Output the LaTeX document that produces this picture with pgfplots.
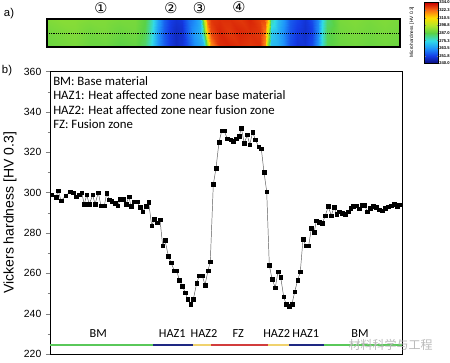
\documentclass[border=0pt]{standalone}
\usepackage{fontspec}
\setmainfont{Carlito}
\newfontfamily\arialfont{Liberation Sans}
\newfontfamily\symfont{DejaVu Sans}
\newfontfamily\cjk{Noto Sans CJK SC}
\usepackage{pgfplots}
\pgfplotsset{compat=1.18}
\definecolor{bmgreen}{RGB}{90,200,90}
\definecolor{hazblue}{RGB}{30,40,130}
\definecolor{hazyellow}{RGB}{240,210,110}
\definecolor{fzred}{RGB}{210,60,60}

\pgfplotstableread{
x y
1.7 298.9
6.0 297.7
8.3 300.9
11.0 295.9
15.7 298.4
20.3 300.5
23.3 300.0
26.0 298.0
29.3 298.9
31.7 300.0
34.3 294.2
36.7 298.9
39.3 294.2
42.7 298.9
45.0 294.2
48.3 300.0
51.0 293.4
54.3 293.4
56.7 299.7
59.3 296.4
61.7 295.6
65.0 294.7
67.7 293.4
70.3 296.7
73.3 296.7
76.0 294.2
79.0 298.0
81.0 293.1
84.3 295.4
87.3 295.4
90.0 292.6
92.7 290.6
96.0 293.1
98.7 295.1
101.7 283.5
104.3 286.8
107.3 285.1
110.0 286.5
112.7 273.6
115.0 276.5
118.3 268.6
121.0 265.3
124.3 261.3
126.7 261.3
129.3 256.7
132.3 253.7
135.3 250.4
137.7 247.1
140.7 244.8
143.3 247.1
146.7 255.1
149.3 258.8
152.3 258.8
155.0 254.2
158.0 261.3
160.3 265.8
163.3 304.0
166.0 312.1
169.0 325.0
171.7 330.6
174.3 330.6
177.3 326.6
180.7 326.2
183.3 325.3
186.0 326.6
189.3 327.8
191.3 332.0
194.3 324.5
197.3 328.6
199.7 323.7
202.7 330.0
205.3 326.2
208.7 322.8
211.3 321.7
214.0 310.1
216.7 300.5
219.3 264.1
222.0 257.2
225.3 252.9
228.0 260.8
230.7 258.0
233.7 248.4
236.0 244.8
239.3 243.8
242.0 244.8
244.7 250.9
247.7 256.7
250.3 260.8
253.0 276.8
256.0 273.7
258.7 273.6
261.3 282.3
264.3 280.4
266.3 286.1
269.3 285.3
272.3 284.8
275.3 288.6
278.3 293.1
281.3 288.6
284.0 292.8
286.7 289.4
289.3 290.6
292.3 289.8
295.0 289.4
298.0 290.6
300.7 292.3
303.3 293.1
306.0 293.4
309.0 291.9
311.7 293.9
314.5 293.8
317.3 290.6
320.0 292.3
323.0 293.1
326.0 292.8
329.0 291.4
332.0 291.1
335.0 292.3
338.0 292.9
341.0 293.4
344.0 294.1
347.0 293.1
349.5 293.9
}\hardness

\pgfplotstableread{
x y c
0 0 289
13 0 290
28 0 291
43 0 289
58 0 289
73 0 287
88 0 288
98 0 284
105 0 274
111 0 263
117 0 256
123 0 251
129 0 248
135 0 250
141 0 255
147 0 262
153 0 266
157 0 270
160 0 290
164 0 318
173 0 329
183 0 330
193 0 329
203 0 328
213 0 329
218 0 320
221 0 290
224 0 270
231 0 268
237 0 262
243 0 254
250 0 250
258 0 250
265 0 254
271 0 264
275 0 276
280 0 286
293 0 289
308 0 290
323 0 289
338 0 290
353 0 289
0 14 290
13 14 291
28 14 292
43 14 290
58 14 291
73 14 289
88 14 290
98 14 286
105 14 276
111 14 264
117 14 256
123 14 251
129 14 248
135 14 249
141 14 257
147 14 264
153 14 268
157 14 285
160 14 312
164 14 326
173 14 330
183 14 328
193 14 330
203 14 329
213 14 328
218 14 322
221 14 300
224 14 272
231 14 268
237 14 262
243 14 255
250 14 251
258 14 249
265 14 252
271 14 262
275 14 276
280 14 286
293 14 290
308 14 291
323 14 290
338 14 291
353 14 290
0 28 292
13 28 293
28 28 293
43 28 292
58 28 292
73 28 291
88 28 291
98 28 287
105 28 278
111 28 266
117 28 257
123 28 252
129 28 250
135 28 251
141 28 258
147 28 262
153 28 268
157 28 300
160 28 322
164 28 328
173 28 329
183 28 329
193 28 328
203 28 330
213 28 327
218 28 326
221 28 316
224 28 280
231 28 270
237 28 264
243 28 256
250 28 253
258 28 250
265 28 254
271 28 262
275 28 274
280 28 284
293 28 291
308 28 292
323 28 291
338 28 292
353 28 291
}\hmap

\begin{document}
\begin{tikzpicture}
\useasboundingbox (0,0) rectangle (337.5pt,271.5pt);

% ---- panel a) heat map strip ----
\begin{axis}[
  at={(35.25pt,236.25pt)}, anchor=south west,
  scale only axis, width=264.75pt, height=21pt,
  xmin=0, xmax=353, ymin=0, ymax=28,
  ticks=none, axis on top,
  axis line style={line width=1.1pt},
  colormap={origin}{rgb255(0cm)=(10,10,120); rgb255(1cm)=(20,60,230); rgb255(2cm)=(30,150,250); rgb255(3cm)=(50,220,230); rgb255(4cm)=(90,210,70); rgb255(5cm)=(180,230,40); rgb255(6cm)=(255,220,0); rgb255(7cm)=(250,110,20); rgb255(8cm)=(200,0,0)},
  point meta min=240, point meta max=334,
  colorbar,
  colorbar style={
    at={(parent axis.east)}, anchor=west, xshift=9.75pt,
    width=10.5pt, height=45.75pt,
    ytick={240,251.75,263.5,275.25,287,298.75,310.5,322.25,334},
    yticklabels={240.0,251.8,263.5,275.3,287.0,298.8,310.5,322.3,334.0},
    yticklabel style={font=\arialfont\bfseries\fontsize{3.1}{3.5}\selectfont, inner sep=0.5pt},
    major tick length=1pt,
    axis line style={line width=0.4pt},
  },
]
\addplot[surf, shader=interp, point meta=explicit, mesh/cols=42] table[x=x, y=y, meta=c] {\hmap};
\addplot[black, densely dotted, line width=0.4pt] coordinates {(0,14) (353,14)};
\end{axis}

% ---- panel b) hardness profile ----
\begin{axis}[
  at={(37.5pt,6pt)}, anchor=south west,
  scale only axis, width=264pt, height=211.875pt,
  xmin=0, xmax=352, ymin=220, ymax=360,
  xtick=\empty,
  ytick={220,240,...,360}, minor y tick num=1,
  ytick pos=left, tick align=outside,
  major tick length=3pt, minor tick length=1.8pt,
  axis line style={line width=0.7pt},
  /pgf/number format/assume math mode=true,
  yticklabel style={font=\arialfont\fontsize{7.8}{9}\selectfont},
  ylabel={Vickers hardness [HV 0.3]},
  ylabel style={font=\arialfont\fontsize{10.5}{12}\selectfont, at={(axis description cs:-0.1136,0.5)}, anchor=center},
  clip=false,
]
\addplot[gray!70!black, line width=0.35pt, mark=square*, mark size=1.35pt,
  mark options={solid, fill=black, draw=black}] table[x=x, y=y] {\hardness};
\addplot[bmgreen, line width=1.5pt] coordinates {(0,224.5) (103,224.5)};
\addplot[hazblue, line width=1.5pt] coordinates {(103,224.5) (143,224.5)};
\addplot[hazyellow, line width=1.5pt] coordinates {(143,224.5) (161,224.5)};
\addplot[fzred, line width=1.5pt] coordinates {(161,224.5) (218,224.5)};
\addplot[hazyellow, line width=1.5pt] coordinates {(218,224.5) (239,224.5)};
\addplot[hazblue, line width=1.5pt] coordinates {(239,224.5) (274,224.5)};
\addplot[bmgreen, line width=1.5pt] coordinates {(274,224.5) (352,224.5)};
\end{axis}

% labels
\node[font=\arialfont\fontsize{8.5}{10}\selectfont] at (6.75pt,261pt) {a)};
\node[font=\arialfont\fontsize{8.5}{10}\selectfont] at (5.25pt,218.25pt) {b)};
\node[font=\symfont\fontsize{11}{12}\selectfont] at (75.75pt,265.5pt) {①};
\node[font=\symfont\fontsize{11}{12}\selectfont] at (128.25pt,265.5pt) {②};
\node[font=\symfont\fontsize{11}{12}\selectfont] at (149.6pt,265.5pt) {③};
\node[font=\symfont\fontsize{11}{12}\selectfont] at (179.25pt,266pt) {④};
\node[font=\arialfont\fontsize{3.6}{4}\selectfont, rotate=90] at (309pt,247.5pt) {Microhardness [HV 0.3]};

\begin{scope}[every node/.style={anchor=base west, inner sep=0pt, font=\fontsize{9.6}{11}\selectfont}]
\node at (39.75pt,207.75pt) {BM: Base material};
\node at (39.75pt,197pt) {HAZ1: Heat affected zone near base material};
\node at (39.75pt,186pt) {HAZ2: Heat affected zone near fusion zone};
\node at (39.75pt,175.5pt) {FZ: Fusion zone};
\end{scope}

\begin{scope}[every node/.style={anchor=base, inner sep=0pt, font=\fontsize{9.2}{11}\selectfont}]
\node at (73.7pt,18.75pt) {BM};
\node at (129.2pt,18.75pt) {HAZ1};
\node at (153pt,18.75pt) {HAZ2};
\node at (178.7pt,18.75pt) {FZ};
\node at (207.5pt,18.75pt) {HAZ2};
\node at (229.3pt,18.75pt) {HAZ1};
\node at (270pt,18.75pt) {BM};
\end{scope}

\node[font=\cjk\fontsize{9}{10}\selectfont, text=gray!55, inner sep=0pt] at (293pt,12.75pt) {材料科学与工程};
\end{tikzpicture}
\end{document}
